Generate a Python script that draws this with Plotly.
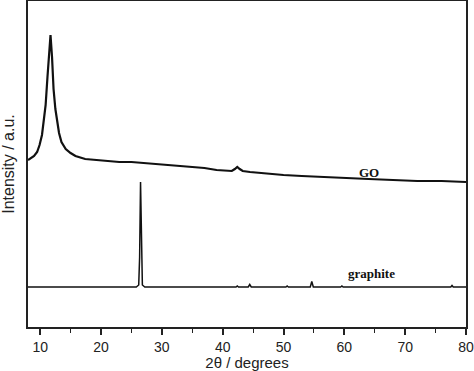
import plotly.graph_objects as go

# GO pattern (2theta, intensity a.u.)
go_x = [8.0, 8.6, 9.0, 9.5, 9.9, 10.3, 10.6, 10.9, 11.2, 11.45, 11.7, 11.95, 12.2, 12.5,
        12.8, 13.1, 13.5, 14.2, 15.0, 15.8, 17.4, 19.0, 21.0, 23.0, 25.0, 27.0, 29.0,
        31.0, 33.0, 35.0, 37.0, 39.0, 40.5, 41.5, 42.0, 42.4, 42.8, 43.3, 44.5, 46.0,
        48.0, 50.0, 53.0, 56.0, 60.0, 64.0, 68.0, 72.0, 76.0, 80.0]
go_y = [167, 169, 171, 175, 182, 192, 205, 222, 250, 275, 292, 270, 238, 218,
        205, 194, 185, 178, 174, 171, 168, 167, 166, 165, 165, 164, 163,
        162, 161, 160, 159, 157, 156, 156, 158, 160, 158, 156, 155, 154,
        153, 152, 151, 150, 149, 148, 147, 146, 146, 145]

# Graphite pattern
gr_x = [8.0, 25.8, 26.2, 26.35, 26.5, 26.65, 26.8, 27.2, 42.2, 42.4, 42.6, 44.2, 44.45,
        44.7, 50.4, 50.6, 50.8, 54.4, 54.65, 54.9, 59.4, 59.6, 59.8, 77.5, 77.7, 77.9, 80.0]
gr_y = [40, 40, 42, 70, 145, 70, 42, 40, 40, 41, 40, 40, 42.5,
        40, 40, 41, 40, 40, 45.5, 40, 40, 41, 40, 40, 41.5, 40, 40]

x_ticks = [10, 20, 30, 40, 50, 60, 70, 80]
labels = ["GO", "graphite"]
label_x = [64.1, 64.4]
label_y = [155, 54]

fig = go.Figure()
fig.add_trace(go.Scatter(x=go_x, y=go_y, mode="lines",
                         line=dict(color="#111111", width=2.2), showlegend=False))
fig.add_trace(go.Scatter(x=gr_x, y=gr_y, mode="lines",
                         line=dict(color="#111111", width=1.5), showlegend=False))

for t, lx, ly in zip(labels, label_x, label_y):
    fig.add_annotation(x=lx, y=ly, text="<b>%s</b>" % t, showarrow=False,
                       font=dict(family="Liberation Serif", size=13, color="#111111"))

fig.update_layout(
    width=474, height=371,
    margin=dict(l=28, r=8, t=1, b=44),
    paper_bgcolor="white", plot_bgcolor="white",
    font=dict(family="Liberation Sans", size=14, color="#222222"),
)
fig.update_xaxes(
    range=[8, 80], tickvals=x_ticks, ticktext=[str(v) for v in x_ticks],
    ticks="outside", ticklen=6, tickwidth=1.5, tickcolor="#222222",
    minor=dict(ticks="outside", ticklen=4, tickwidth=1.2, tickcolor="#222222",
               tick0=5, dtick=5),
    showline=True, linewidth=1.6, linecolor="#222222", mirror=True,
    showgrid=False, zeroline=False, automargin=False,
    title=dict(text="2θ / degrees", standoff=2, font=dict(size=15)),
    tickfont=dict(size=14),
)
fig.update_yaxes(
    range=[0, 326], showticklabels=False, ticks="",
    showline=True, linewidth=1.6, linecolor="#222222", mirror=True,
    showgrid=False, zeroline=False, automargin=False,
    title=dict(text="Intensity / a.u.", standoff=11, font=dict(size=16)),
)
fig.write_html("out.html", config={"displayModeBar": False},
               post_script="document.body.style.margin='0';document.body.style.overflow='hidden';")
